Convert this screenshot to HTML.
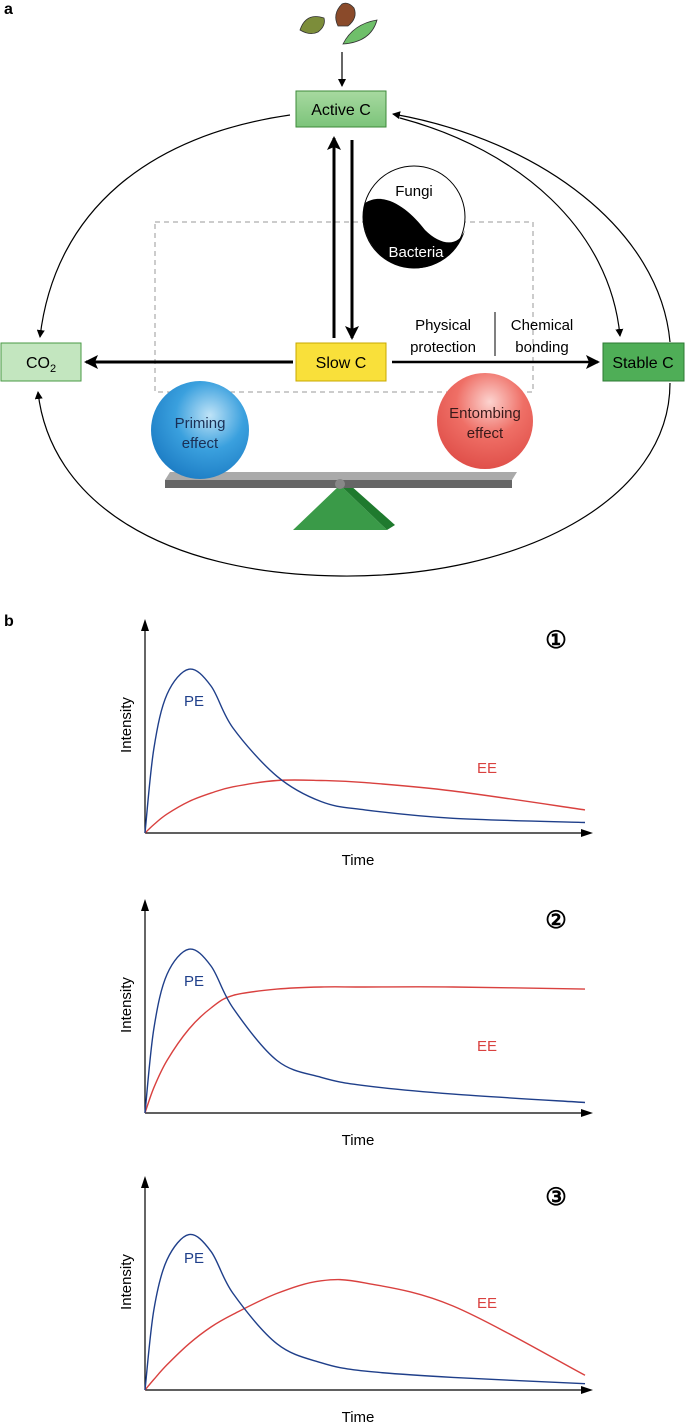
<!DOCTYPE html>
<html><head><meta charset="utf-8"><style>
html,body{margin:0;padding:0;background:#fff;}
svg{display:block;font-family:"Liberation Sans",sans-serif;}
</style></head><body>
<svg width="685" height="1427" viewBox="0 0 685 1427">
<defs>
<marker id="ah" markerWidth="8" markerHeight="8" refX="7" refY="4" orient="auto" markerUnits="userSpaceOnUse"><path d="M0,0 L8,4 L0,8 Z" fill="#000"/></marker>
<marker id="ahb" markerWidth="14" markerHeight="14" refX="12" refY="7" orient="auto" markerUnits="userSpaceOnUse"><path d="M0,0 L14,7 L0,14 L3,7 Z" fill="#000"/></marker>
<radialGradient id="gb" cx="0.6" cy="0.35" r="0.7"><stop offset="0" stop-color="#bfe3f7"/><stop offset="0.5" stop-color="#3aa0de"/><stop offset="1" stop-color="#1c7cc4"/></radialGradient>
<radialGradient id="gr" cx="0.55" cy="0.3" r="0.7"><stop offset="0" stop-color="#fcd3cf"/><stop offset="0.5" stop-color="#ef6f66"/><stop offset="1" stop-color="#e0504a"/></radialGradient>
<linearGradient id="gg" x1="0" y1="0" x2="0" y2="1"><stop offset="0" stop-color="#a7d9a0"/><stop offset="1" stop-color="#7cc47a"/></linearGradient>
</defs>
<text x="4" y="14" font-size="16" font-weight="bold">a</text>
<text x="4" y="626" font-size="16" font-weight="bold">b</text>

<g>
<path d="M300,30 q6,-18 24,-12 q2,8 -6,14 q-8,4 -18,-2z" fill="#7c8d3a" stroke="#333" stroke-width="0.8"/>
<path d="M338,26 q-6,-12 4,-22 q6,-3 12,4 q4,10 -6,18z" fill="#8a4a2a" stroke="#333" stroke-width="0.8"/>
<path d="M343,44 q10,-20 34,-24 q-6,22 -34,24z" fill="#6fbf6a" stroke="#333" stroke-width="0.8"/>
</g>
<line x1="342" y1="52" x2="342" y2="86" stroke="#000" stroke-width="1.2" marker-end="url(#ah)"/>

<rect x="155" y="222" width="378" height="170" fill="none" stroke="#999" stroke-dasharray="5,4"/>

<g fill="none" stroke="#000" stroke-width="1.2">
<path d="M290,115 C150,135 55,210 40,337" marker-end="url(#ah)"/>
<path d="M670,383 C670,500 520,578 340,576 C160,574 50,500 38,392" marker-end="url(#ah)"/>
<path d="M670,342 C660,230 540,140 393,114" marker-end="url(#ah)"/>
<path d="M400,118 C520,150 610,230 620,336" marker-end="url(#ah)"/>
</g>
<g stroke="#000" stroke-width="3" fill="none">
<line x1="334" y1="338" x2="334" y2="138" marker-end="url(#ahb)"/>
<line x1="352" y1="140" x2="352" y2="338" marker-end="url(#ahb)"/>
<line x1="293" y1="362" x2="86" y2="362" marker-end="url(#ahb)"/>
<line x1="392" y1="362" x2="598" y2="362" stroke-width="2.5" marker-end="url(#ahb)"/>
</g>

<g>
<circle cx="414" cy="217" r="51" fill="#fff" stroke="#000" stroke-width="1"/>
<path d="M365,203 A51,51 0 0 0 465,230 C458,248 440,245 425,230 C410,210 385,190 365,203Z" fill="#000"/>
<text x="414" y="196" font-size="15" text-anchor="middle">Fungi</text>
<text x="416" y="257" font-size="15" text-anchor="middle" fill="#fff">Bacteria</text>
</g>

<rect x="296" y="91" width="90" height="36" fill="url(#gg)" stroke="#3d8a3a"/>
<text x="341" y="115" font-size="16" text-anchor="middle">Active C</text>
<rect x="296" y="343" width="90" height="38" fill="#f9e03a" stroke="#c8a800"/>
<text x="341" y="368" font-size="16" text-anchor="middle">Slow C</text>
<rect x="1" y="343" width="80" height="38" fill="#c3e6bf" stroke="#4a9a46"/>
<text x="41" y="368" font-size="16" text-anchor="middle">CO<tspan font-size="11" dy="4">2</tspan></text>
<rect x="603" y="343" width="81" height="38" fill="#4fae57" stroke="#2d7a33"/>
<text x="643" y="368" font-size="16" text-anchor="middle">Stable C</text>

<text x="443" y="330" font-size="15" text-anchor="middle"><tspan x="443">Physical</tspan><tspan x="443" dy="22">protection</tspan></text>
<line x1="495" y1="312" x2="495" y2="356" stroke="#000"/>
<text x="542" y="330" font-size="15" text-anchor="middle"><tspan x="542">Chemical</tspan><tspan x="542" dy="22">bonding</tspan></text>

<polygon points="293,530 340,485 387,530" fill="#3a9a48"/>
<polygon points="340,485 350,485 395,525 387,530" fill="#1f7a2e"/>
<polygon points="170,472 517,472 512,480 165,480" fill="#aaa"/>
<polygon points="165,480 512,480 512,488 165,488" fill="#666"/>
<circle cx="340" cy="484" r="5" fill="#888"/>
<circle cx="200" cy="430" r="49" fill="url(#gb)"/>
<text x="200" y="428" font-size="15" text-anchor="middle" fill="#1a2f55"><tspan x="200">Priming</tspan><tspan x="200" dy="20">effect</tspan></text>
<circle cx="485" cy="421" r="48" fill="url(#gr)"/>
<text x="485" y="418" font-size="15" text-anchor="middle" fill="#3a1a1a"><tspan x="485">Entombing</tspan><tspan x="485" dy="20">effect</tspan></text>

<g id="charts"></g>
</svg>
<script>
const xs = [0, 0.02, 0.05, 0.1, 0.15, 0.2, 0.3, 0.4, 0.5, 0.7, 1.0];
const pe1 = [0, 0.40, 0.66, 0.78, 0.70, 0.50, 0.27, 0.15, 0.11, 0.07, 0.05];
const pe2 = [0, 0.40, 0.66, 0.78, 0.70, 0.50, 0.25, 0.17, 0.13, 0.09, 0.05];
const pe3 = [0, 0.38, 0.62, 0.74, 0.66, 0.46, 0.22, 0.13, 0.09, 0.06, 0.03];
const ee1 = [0, 0.04, 0.09, 0.15, 0.19, 0.22, 0.25, 0.25, 0.24, 0.20, 0.11];
const ee2 = [0, 0.12, 0.25, 0.40, 0.50, 0.56, 0.59, 0.60, 0.60, 0.60, 0.59];
const ee3 = [0, 0.05, 0.12, 0.22, 0.30, 0.36, 0.46, 0.52, 0.51, 0.40, 0.07];
const panelLabels = ["①", "②", "③"];
const origins = [833, 1113, 1390];
const peSeries = [pe1, pe2, pe3];
const eeSeries = [ee1, ee2, ee3];
const NS = "http://www.w3.org/2000/svg";
const g = document.getElementById("charts");
const X0 = 145, W = 440, H = 210;
function mk(tag, attrs, parent) { const e = document.createElementNS(NS, tag); for (const k in attrs) e.setAttribute(k, attrs[k]); (parent || g).appendChild(e); return e; }
function pathFor(ys, oy) {
  const pts = xs.map((x, i) => [X0 + x * W, oy - ys[i] * H]);
  let d = "M" + pts[0][0] + "," + pts[0][1];
  for (let i = 0; i < pts.length - 1; i++) {
    const p0 = pts[Math.max(0, i - 1)], p1 = pts[i], p2 = pts[i + 1], p3 = pts[Math.min(pts.length - 1, i + 2)];
    const c1 = [p1[0] + (p2[0] - p0[0]) / 6, p1[1] + (p2[1] - p0[1]) / 6];
    const c2 = [p2[0] - (p3[0] - p1[0]) / 6, p2[1] - (p3[1] - p1[1]) / 6];
    d += " C" + c1[0] + "," + c1[1] + " " + c2[0] + "," + c2[1] + " " + p2[0] + "," + p2[1];
  }
  return d;
}
origins.forEach((oy, k) => {
  const cg = mk("g", {});
  
  
  const ya = mk("path", { d: `M${X0},${oy} L${X0},${oy - 204}`, stroke: "#000", "stroke-width": 1.2, fill: "none" }, cg);
  
  
  const yh = mk("path", { d: `M${X0 - 4},${oy - 202} L${X0},${oy - 214} L${X0 + 4},${oy - 202} Z`, fill: "#000" }, cg);
  
  
  const xa = mk("path", { d: `M${X0},${oy} L${X0 + W},${oy}`, stroke: "#000", "stroke-width": 1.2, fill: "none" }, cg);
  
  
  const xh = mk("path", { d: `M${X0 + W - 4},${oy - 4} L${X0 + W + 8},${oy} L${X0 + W - 4},${oy + 4} Z`, fill: "#000" }, cg);
  
  
  const ee = mk("path", { d: pathFor(eeSeries[k], oy), stroke: "#d9413f", "stroke-width": 1.4, fill: "none" }, cg);
  
  
  const pe = mk("path", { d: pathFor(peSeries[k], oy), stroke: "#1f3f8a", "stroke-width": 1.4, fill: "none" }, cg);
  
  
  const yt = mk("text", { x: 0, y: 0, "font-size": 15, "text-anchor": "middle", transform: `translate(131,${oy - 108}) rotate(-90)` }, cg);
  yt.textContent = "Intensity";
  
  
  const xt = mk("text", { x: 358, y: oy + 32, "font-size": 15, "text-anchor": "middle" }, cg);
  xt.textContent = "Time";
  
  
  const pl = mk("text", { x: 194, y: oy - 127, "font-size": 15, "text-anchor": "middle", fill: "#1f3f8a" }, cg);
  pl.textContent = "PE";
  
  
  const eeY = [oy - 60, oy - 62, oy - 82][k];
  const el = mk("text", { x: 487, y: eeY, "font-size": 15, "text-anchor": "middle", fill: "#d9413f" }, cg);
  el.textContent = "EE";
  
  
  const nl = mk("text", { x: 556, y: oy - 185, "font-size": 24, "font-weight": "bold", "text-anchor": "middle" }, cg);
  nl.textContent = panelLabels[k];
  
  
});
</script>
</body></html>
